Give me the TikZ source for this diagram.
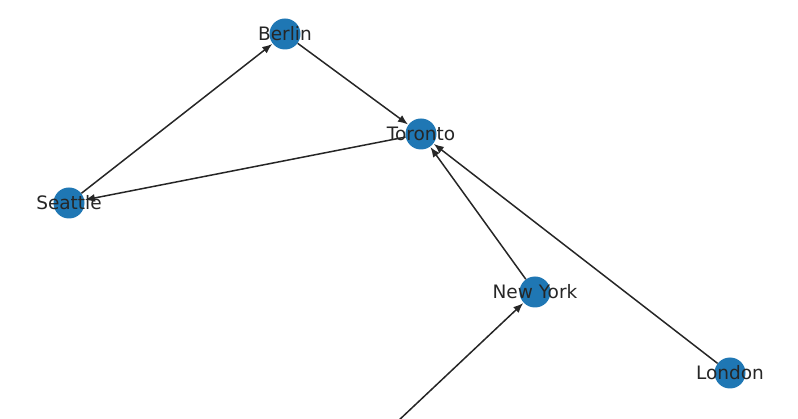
\documentclass[tikz,border=0pt]{standalone}
\usepackage{fontspec}
\setmainfont{DejaVu Sans}
\usetikzlibrary{arrows.meta}
\definecolor{nodeblue}{HTML}{1F77B4}
\tikzset{
  city/.style={circle,fill=nodeblue,minimum size=31pt,inner sep=0pt},
  lbl/.style={font=\fontsize{18.5}{22}\selectfont,text=black!85},
  edge/.style={draw=black!85,line width=1.5pt,-{Latex[length=10pt,width=8pt]},shorten >=0.5pt}
}
\begin{document}
\begin{tikzpicture}[x=1pt,y=-1pt]
\useasboundingbox (0,0) rectangle (798,419);
\clip (0,0) rectangle (798,419);
\node[city] (berlin) at (285,34) {};
\node[city] (toronto) at (421,134) {};
\node[city] (seattle) at (69,203) {};
\node[city] (newyork) at (535,292) {};
\node[city] (london) at (730,373) {};
\coordinate (off) at (380,438);
\draw[edge] (berlin) -- (toronto);
\draw[edge] (toronto) -- (seattle);
\draw[edge] (seattle) -- (berlin);
\draw[edge] (newyork) -- (toronto);
\draw[edge] (london) -- (toronto);
\draw[edge] (off) -- (newyork);
\node[lbl] at (berlin) {Berlin};
\node[lbl] at (toronto) {Toronto};
\node[lbl] at (seattle) {Seattle};
\node[lbl] at (newyork) {New York};
\node[lbl] at (london) {London};
\end{tikzpicture}
\end{document}
